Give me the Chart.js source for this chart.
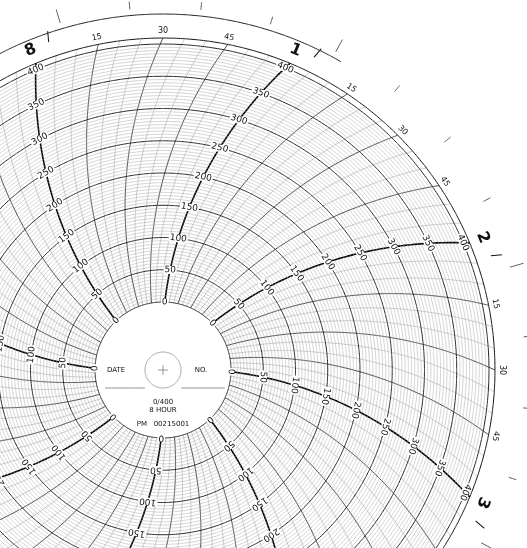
<!DOCTYPE html>
<html>
<head>
<meta charset="utf-8">
<script src="https://cdn.jsdelivr.net/npm/chart.js@4.4.0/dist/chart.umd.min.js"></script>
<style>
  html, body { margin: 0; padding: 0; background: #fff; }
  #wrap { width: 527px; height: 548px; position: relative; }
</style>
</head>
<body>
<div id="wrap"><canvas id="chart"></canvas></div>
<script>
// chart values
const hours = [1, 2, 3, 4, 5, 6, 7, 8];
const minuteLabels = [15, 30, 45];
const valueLabels = [0, 50, 100, 150, 200, 250, 300, 350, 400];
const ringStep = 5;          // pen range 0..400, fine ring every 5
const minuteStep = 5;        // time line every 5 min
const rangeMax = 400;

// geometry of the paper (in pixel-like units, centre at 0,0)
const R_IN = 68, R_OUT = 332, R_400 = 326;
const SKEW = 21;             // deg the time arcs bend between inner and outer ring

function valToR(v) { return R_IN + v * (R_400 - R_IN) / rangeMax; }
// angle (deg, clockwise from top) of the time line for minute m at radius r
function timeAngle(m, r) {
    const outer = -22.5 + m * 45 / 60;
    return outer - SKEW * (R_OUT - r) / (R_OUT - R_IN);
}
function pt(r, deg) {
    const a = deg * Math.PI / 180;
    return { x: r * Math.sin(a), y: r * Math.cos(a) };
}

const datasets = [];
// concentric value rings
for (let v = 0; v <= rangeMax; v += ringStep) {
    const r = valToR(v), data = [];
    for (let d = 0; d <= 360; d += 2) data.push(pt(r, d));
    const major = v % 50 === 0;
    datasets.push({ data, borderColor: major ? '#222' : '#a8a8a8', borderWidth: major ? 1 : 0.5 });
}
// outer border + inner hub
[R_OUT, 18].forEach(r => {
    const data = [];
    for (let d = 0; d <= 360; d += 2) data.push(pt(r, d));
    datasets.push({ data, borderColor: r === 18 ? '#999' : '#111', borderWidth: 1 });
});
// upper partial scale arc
{
    const data = [];
    for (let d = -30; d <= 30; d += 2) data.push(pt(356, d));
    datasets.push({ data, borderColor: '#222', borderWidth: 1 });
}
// time arcs
for (let m = 0; m < 8 * 60; m += minuteStep) {
    const data = [];
    for (let r = R_IN; r <= R_OUT; r += 6) data.push(pt(r, timeAngle(m, r)));
    data.push(pt(R_OUT, timeAngle(m, R_OUT)));
    const hourLine = m % 60 === 0, quarter = m % 15 === 0;
    datasets.push({
        data,
        borderColor: hourLine ? '#000' : quarter ? '#333' : '#999',
        borderWidth: hourLine ? 1.6 : quarter ? 0.9 : 0.5
    });
}
// outer tick marks
for (let m = 0; m < 8 * 60; m += 15) {
    const deg = -22.5 + m * 45 / 60 + 6;
    const len = m % 60 === 0 ? 14 : 8;
    datasets.push({ data: [pt(362, deg), pt(362 + len, deg)], borderColor: '#555', borderWidth: 1 });
}
// hub cross and date lines
datasets.push({ data: [{ x: -5, y: 0 }, { x: 5, y: 0 }], borderColor: '#777', borderWidth: 0.8 });
datasets.push({ data: [{ x: 0, y: -5 }, { x: 0, y: 5 }], borderColor: '#777', borderWidth: 0.8 });
datasets.push({ data: [{ x: -58, y: -18 }, { x: -18, y: -18 }], borderColor: '#777', borderWidth: 0.8 });
datasets.push({ data: [{ x: 18, y: -18 }, { x: 62, y: -18 }], borderColor: '#777', borderWidth: 0.8 });

// tension > 0 keeps Chart.js off its x-sorted fast path, which breaks circles
datasets.forEach(d => { d.showLine = true; d.pointRadius = 0; d.fill = false; d.tension = 0.001; });

const labelPlugin = {
    id: 'paperText',
    afterDatasetsDraw(chart) {
        const ctx = chart.ctx, xs = chart.scales.x, ys = chart.scales.y;
        const put = (x, y) => [xs.getPixelForValue(x), ys.getPixelForValue(y)];
        function text(str, p, rot, font, bg) {
            const [px, py] = put(p.x, p.y);
            ctx.save();
            ctx.translate(px, py);
            ctx.rotate(rot * Math.PI / 180);
            ctx.font = font;
            ctx.textAlign = 'center';
            ctx.textBaseline = 'middle';
            if (bg) {
                const w = ctx.measureText(str).width;
                ctx.fillStyle = '#fff';
                ctx.fillRect(-w / 2 - 1, -4, w + 2, 8);
            }
            ctx.fillStyle = '#111';
            ctx.fillText(str, 0, 0);
            ctx.restore();
        }
        // values along each hour line
        hours.forEach(h => {
            const m = h * 60;
            valueLabels.forEach(v => {
                const r = valToR(v), a = timeAngle(m, r);
                text(String(v), pt(r, a), a, '9px "DejaVu Sans"', true);
            });
            // hour number outside, with its slash mark
            const ha = timeAngle(m, R_OUT);
            text(String(h), pt(346, ha), ha, 'bold 16px "DejaVu Sans"');
            text('/', pt(352, ha + 3.5), ha, '13px "DejaVu Sans"');
            minuteLabels.forEach(mm => {
                const ma = timeAngle(m + mm, R_OUT);
                text(String(mm), pt(339, ma), ma, '8px "DejaVu Sans"');
            });
        });
        // hub text
        const f = '7px "DejaVu Sans"';
        text('DATE', { x: -47, y: 0 }, 0, f);
        text('NO.', { x: 38, y: 0 }, 0, f);
        text('0/400', { x: 0, y: -32 }, 0, f);
        text('8 HOUR', { x: 0, y: -40 }, 0, f);
        text('PM   00215001', { x: 0, y: -54 }, 0, f);
    }
};

new Chart(document.getElementById('chart'), {
    type: 'scatter',
    data: { datasets },
    options: {
        responsive: true,
        maintainAspectRatio: false,
        animation: false,
        layout: { padding: 0 },
        plugins: { legend: { display: false }, tooltip: { enabled: false } },
        scales: {
            x: { type: 'linear', min: -163, max: 364, display: false },
            y: { type: 'linear', min: -178, max: 370, display: false }
        }
    },
    plugins: [labelPlugin]
});
</script>
</body>
</html>
